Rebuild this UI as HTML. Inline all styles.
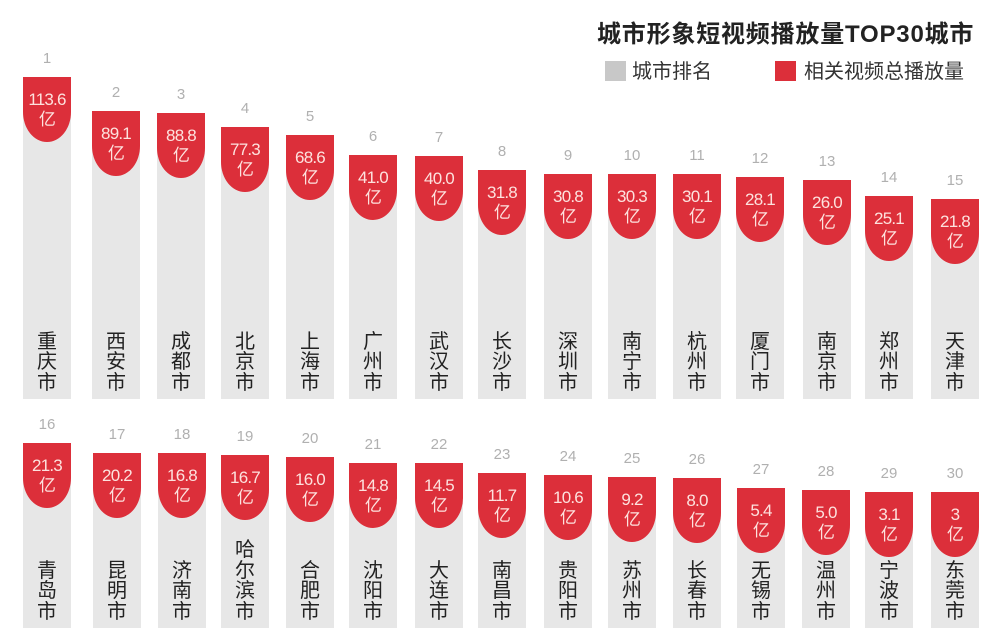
<!DOCTYPE html>
<html><head><meta charset="utf-8"><style>
html,body{margin:0;padding:0;background:#fff;}
body{width:1000px;height:644px;position:relative;overflow:hidden;font-family:"Liberation Sans","Noto Sans CJK SC",sans-serif;}
.b{position:absolute;width:48px;background:#e7e7e7;}
.r{position:absolute;left:0;top:0;width:48px;height:65px;background:#dc2f3a;border-radius:0 0 24px 24px/0 0 30px 30px;color:#fde2de;font:17px/20px "Liberation Sans","Noto Sans CJK SC",sans-serif;text-align:center;padding-top:13px;box-sizing:border-box;letter-spacing:-0.8px;}
.n{position:absolute;top:-28px;left:0;width:48px;text-align:center;font:15px/20px "Liberation Sans",sans-serif;color:#b0b0b0;}
.t{position:absolute;bottom:6px;left:0;width:48px;text-align:center;font:20px/20.5px "Liberation Sans","Noto Sans CJK SC",sans-serif;color:#222;}
.title{position:absolute;left:597px;top:21px;font:bold 24px/28px "Liberation Sans","Noto Sans CJK SC",sans-serif;color:#222;white-space:nowrap;letter-spacing:0.8px;}
.lg{position:absolute;width:21px;height:20px;}
.lt{position:absolute;top:61px;font:20px/22px "Liberation Sans","Noto Sans CJK SC",sans-serif;color:#333;white-space:nowrap;}
</style></head><body>
<div class="title">城市形象短视频播放量TOP30城市</div>
<div class="lg" style="left:605px;top:61px;background:#c8c8c8"></div>
<div class="lt" style="left:632px">城市排名</div>
<div class="lg" style="left:775px;top:61px;background:#dc2f3a"></div>
<div class="lt" style="left:804px">相关视频总播放量</div>

<div class="b" style="left:23px;top:77px;height:322px"><div class="n">1</div><div class="r">113.6<br>亿</div><div class="t">重<br>庆<br>市</div></div>
<div class="b" style="left:92px;top:111px;height:288px"><div class="n">2</div><div class="r">89.1<br>亿</div><div class="t">西<br>安<br>市</div></div>
<div class="b" style="left:157px;top:113px;height:286px"><div class="n">3</div><div class="r">88.8<br>亿</div><div class="t">成<br>都<br>市</div></div>
<div class="b" style="left:221px;top:127px;height:272px"><div class="n">4</div><div class="r">77.3<br>亿</div><div class="t">北<br>京<br>市</div></div>
<div class="b" style="left:286px;top:135px;height:264px"><div class="n">5</div><div class="r">68.6<br>亿</div><div class="t">上<br>海<br>市</div></div>
<div class="b" style="left:349px;top:155px;height:244px"><div class="n">6</div><div class="r">41.0<br>亿</div><div class="t">广<br>州<br>市</div></div>
<div class="b" style="left:415px;top:156px;height:243px"><div class="n">7</div><div class="r">40.0<br>亿</div><div class="t">武<br>汉<br>市</div></div>
<div class="b" style="left:478px;top:170px;height:229px"><div class="n">8</div><div class="r">31.8<br>亿</div><div class="t">长<br>沙<br>市</div></div>
<div class="b" style="left:544px;top:174px;height:225px"><div class="n">9</div><div class="r">30.8<br>亿</div><div class="t">深<br>圳<br>市</div></div>
<div class="b" style="left:608px;top:174px;height:225px"><div class="n">10</div><div class="r">30.3<br>亿</div><div class="t">南<br>宁<br>市</div></div>
<div class="b" style="left:673px;top:174px;height:225px"><div class="n">11</div><div class="r">30.1<br>亿</div><div class="t">杭<br>州<br>市</div></div>
<div class="b" style="left:736px;top:177px;height:222px"><div class="n">12</div><div class="r">28.1<br>亿</div><div class="t">厦<br>门<br>市</div></div>
<div class="b" style="left:803px;top:180px;height:219px"><div class="n">13</div><div class="r">26.0<br>亿</div><div class="t">南<br>京<br>市</div></div>
<div class="b" style="left:865px;top:196px;height:203px"><div class="n">14</div><div class="r">25.1<br>亿</div><div class="t">郑<br>州<br>市</div></div>
<div class="b" style="left:931px;top:199px;height:200px"><div class="n">15</div><div class="r">21.8<br>亿</div><div class="t">天<br>津<br>市</div></div>

<div class="b" style="left:23px;top:443px;height:185px"><div class="n">16</div><div class="r">21.3<br>亿</div><div class="t">青<br>岛<br>市</div></div>
<div class="b" style="left:93px;top:453px;height:175px"><div class="n">17</div><div class="r">20.2<br>亿</div><div class="t">昆<br>明<br>市</div></div>
<div class="b" style="left:158px;top:453px;height:175px"><div class="n">18</div><div class="r">16.8<br>亿</div><div class="t">济<br>南<br>市</div></div>
<div class="b" style="left:221px;top:455px;height:173px"><div class="n">19</div><div class="r">16.7<br>亿</div><div class="t">哈<br>尔<br>滨<br>市</div></div>
<div class="b" style="left:286px;top:457px;height:171px"><div class="n">20</div><div class="r">16.0<br>亿</div><div class="t">合<br>肥<br>市</div></div>
<div class="b" style="left:349px;top:463px;height:165px"><div class="n">21</div><div class="r">14.8<br>亿</div><div class="t">沈<br>阳<br>市</div></div>
<div class="b" style="left:415px;top:463px;height:165px"><div class="n">22</div><div class="r">14.5<br>亿</div><div class="t">大<br>连<br>市</div></div>
<div class="b" style="left:478px;top:473px;height:155px"><div class="n">23</div><div class="r">11.7<br>亿</div><div class="t">南<br>昌<br>市</div></div>
<div class="b" style="left:544px;top:475px;height:153px"><div class="n">24</div><div class="r">10.6<br>亿</div><div class="t">贵<br>阳<br>市</div></div>
<div class="b" style="left:608px;top:477px;height:151px"><div class="n">25</div><div class="r">9.2<br>亿</div><div class="t">苏<br>州<br>市</div></div>
<div class="b" style="left:673px;top:478px;height:150px"><div class="n">26</div><div class="r">8.0<br>亿</div><div class="t">长<br>春<br>市</div></div>
<div class="b" style="left:737px;top:488px;height:140px"><div class="n">27</div><div class="r">5.4<br>亿</div><div class="t">无<br>锡<br>市</div></div>
<div class="b" style="left:802px;top:490px;height:138px"><div class="n">28</div><div class="r">5.0<br>亿</div><div class="t">温<br>州<br>市</div></div>
<div class="b" style="left:865px;top:492px;height:136px"><div class="n">29</div><div class="r">3.1<br>亿</div><div class="t">宁<br>波<br>市</div></div>
<div class="b" style="left:931px;top:492px;height:136px"><div class="n">30</div><div class="r">3<br>亿</div><div class="t">东<br>莞<br>市</div></div>
</body></html>
